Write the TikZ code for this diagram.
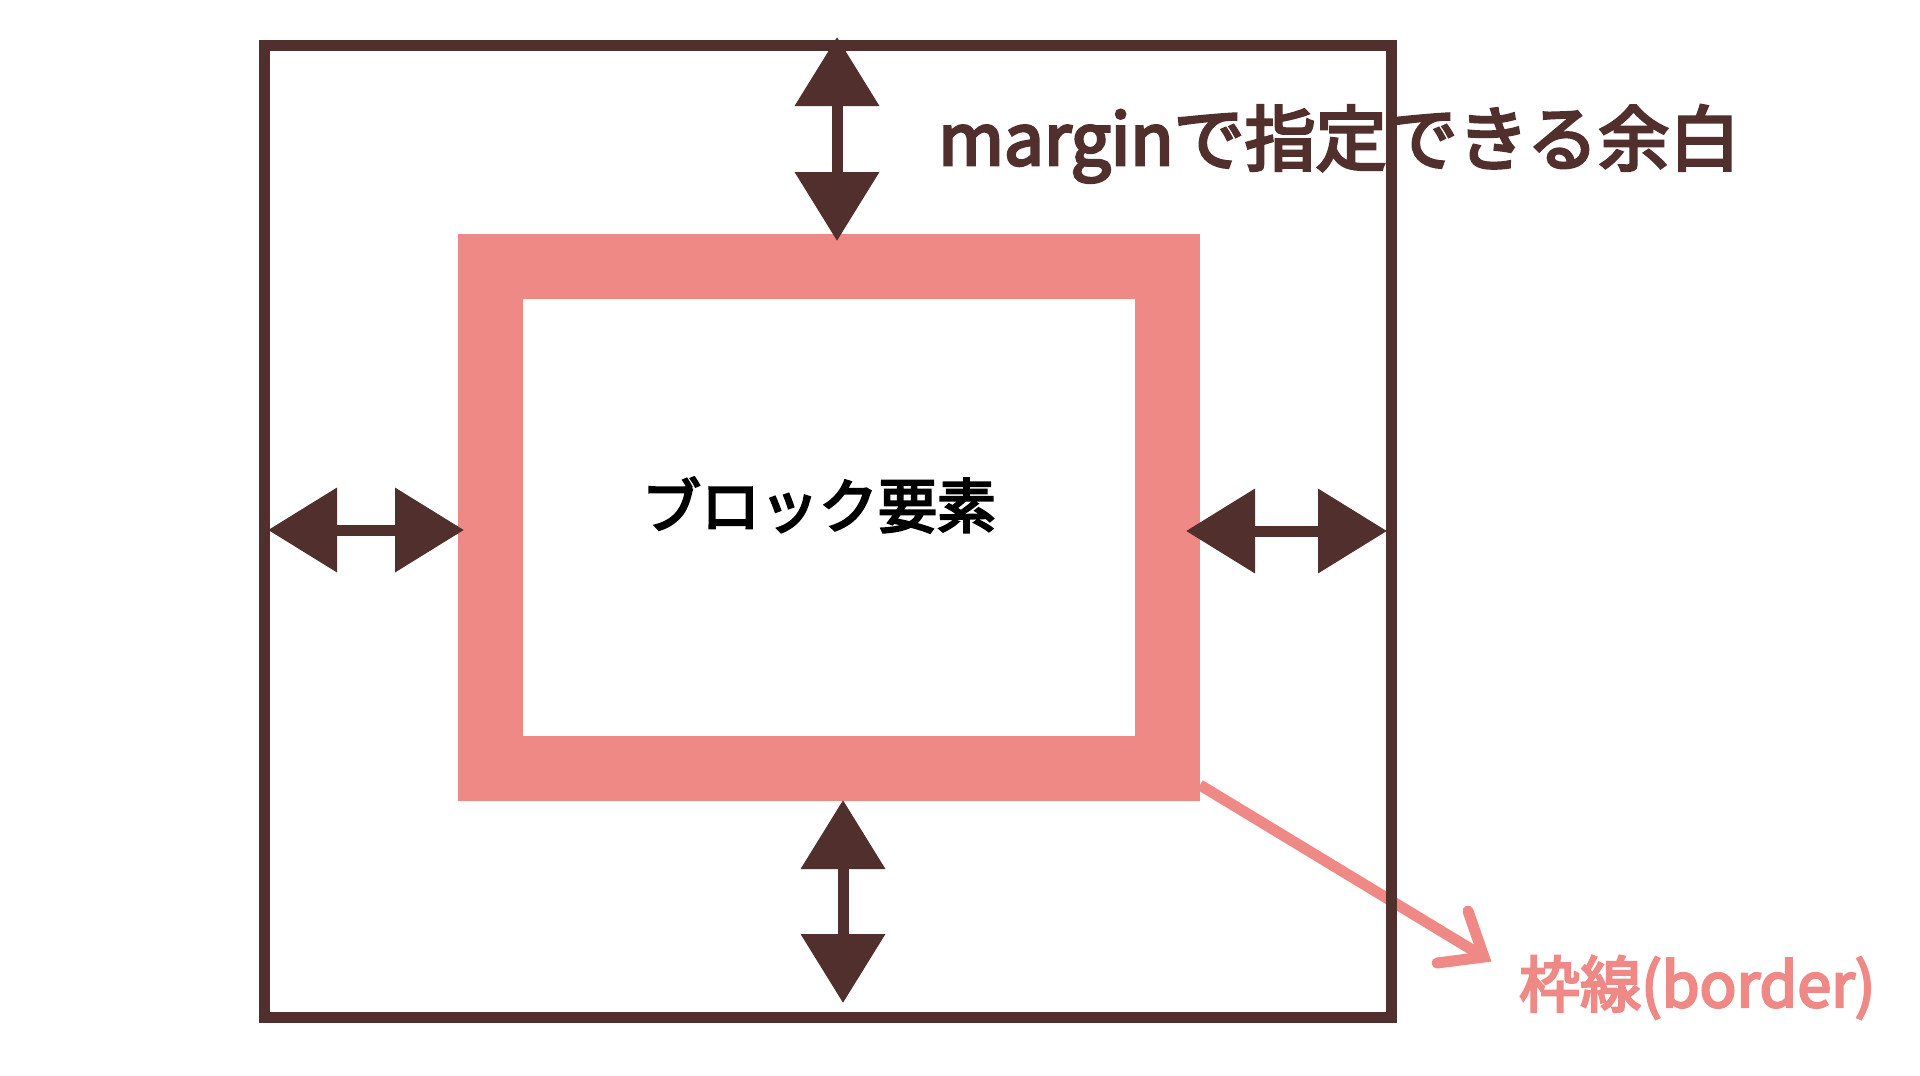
\documentclass[tikz,border=0pt]{standalone}
\usepackage{fontspec}
\newfontfamily\jp{Noto Sans CJK JP}[FakeBold=4]
\usetikzlibrary{arrows.meta}
\definecolor{mbrown}{RGB}{80,47,45}
\definecolor{mpink}{RGB}{238,137,134}
\begin{document}
\begin{tikzpicture}[x=1pt,y=-1pt,
  dbl/.style={mbrown, line width=11pt,
    {Triangle[length=69pt,width=82pt]}-{Triangle[length=69pt,width=82pt]}},
  pointer/.style={mpink, line width=11pt},
  lbl/.style={inner sep=0pt}]
\useasboundingbox (0,0) rectangle (1920,1076);
\fill[white] (0,0) rectangle (1920,1076);

% pointer coordinates
\coordinate (ps) at (1200,785);
\coordinate (ptip) at (1484,957);
\coordinate (pw1) at (1468,911);
\coordinate (pw2) at (1437,963);
\draw[pointer] (ps) -- (ptip);
\draw[pointer, line cap=round, miter limit=10] (pw1) -- (ptip) -- (pw2);

% outer margin box
\node[draw=mbrown, line width=11pt, minimum width=1127pt, minimum height=972.5pt, inner sep=0pt] (outer) at (827.5,531.25) {};

% block element with border
\node[draw=mpink, line width=65pt, minimum width=677pt, minimum height=502pt, inner sep=0pt] (block) at (829,517.5) {};

\node[lbl, text=black, font={\jp\fontsize{59pt}{62pt}\selectfont}] (blocktxt) at (819,505) {ブロック要素};

% margin arrows
\coordinate (ta) at (837,37);   \coordinate (tb) at (837,241);
\coordinate (la) at (268,530);  \coordinate (lb) at (464,530);
\coordinate (ra) at (1186,531); \coordinate (rb) at (1387,531);
\coordinate (ba) at (843,800);  \coordinate (bb) at (843,1003);
\draw[dbl] (ta) -- (tb);
\draw[dbl] (la) -- (lb);
\draw[dbl] (ra) -- (rb);
\draw[dbl] (ba) -- (bb);

\node[lbl, anchor=base west, text=mbrown, font={\jp\fontsize{71pt}{76pt}\selectfont}] (mtxt) at (938,165) {marginで指定できる余白};
\node[lbl, anchor=base west, text=mpink, font={\jp\fontsize{61pt}{66pt}\selectfont}] (btxt) at (1519,1007) {枠線(border)};
\end{tikzpicture}
\end{document}
